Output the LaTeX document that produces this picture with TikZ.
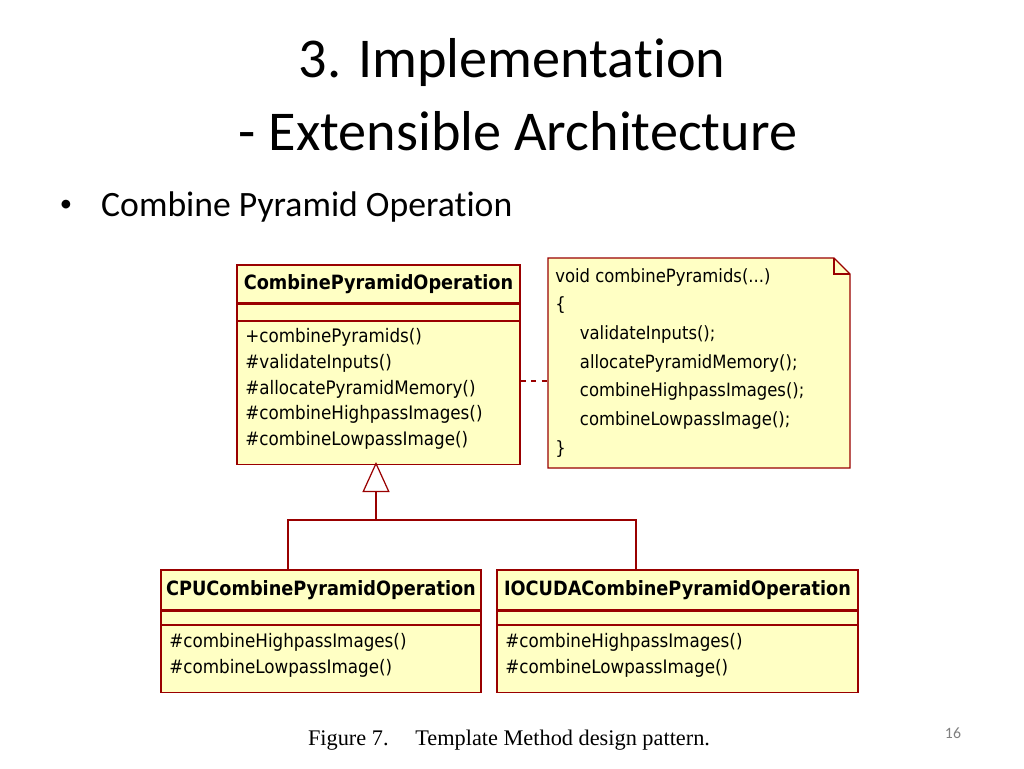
\documentclass[tikz,border=0pt]{standalone}
\usepackage{fontspec}
\setmainfont{Carlito}[Ligatures={NoCommon}]
\newfontfamily\umlfont{DejaVu Sans Condensed}
\newfontfamily\capfont{Liberation Serif}
\usetikzlibrary{positioning}
\usetikzlibrary{arrows.meta}
\definecolor{umlfill}{RGB}{255,255,196}
\definecolor{umlline}{RGB}{153,0,0}
\begin{document}
\begin{tikzpicture}[x=0.02cm, y=-0.02cm]
% -------------------------------------------------
\tikzset{
  comp/.style={draw=umlline, fill=umlfill, line width=0.7pt, inner sep=0pt},
  cname/.style={comp, font=\umlfont\bfseries\fontsize{11.2}{13}\selectfont},
  opstext/.style={anchor=north west, align=left, inner sep=0pt, font=\umlfont\fontsize{10.6}{14.7}\selectfont},
  notetext/.style={anchor=north west, align=left, inner sep=0pt, font=\umlfont\fontsize{10.4}{16.3}\selectfont},
  line/.style={draw=umlline, line width=0.7pt}
}
% -------------------------------------------------
\useasboundingbox (0,0) rectangle (1024,768);

% Slide text
\node (t1) at (512,63) {\fontsize{32}{38}\selectfont 3. Implementation};
\node (t2) at (518,131) {\fontsize{32}{38}\selectfont - Extensible Architecture};
\node[anchor=west] (b1) at (95,207) {\fontsize{20.3}{24}\selectfont Combine Pyramid Operation};
\node (dot) at (66,206) {\fontsize{14}{16}\selectfont •};

% Base class
\node[cname, minimum width=283*0.02cm, minimum height=38*0.02cm] (base) at (378.5,284) {CombinePyramidOperation};
\node[comp, minimum width=283*0.02cm, minimum height=16*0.02cm, below=0pt of base] (basea) {};
\node[comp, minimum width=283*0.02cm, minimum height=143*0.02cm, below=0pt of basea] (baseo) {};
\node[opstext] (baset) at (245,328)
  {+combinePyramids()\\\#validateInputs()\\\#allocatePyramidMemory()\\\#combineHighpassImages()\\\#combineLowpassImage()};

% Note
\draw[line, fill=umlfill] (548,258) -- (834,258) -- (850,274) -- (850,468) -- (548,468) -- cycle;
\draw[line] (834,258) -- (834,274) -- (850,274);
\node[notetext] (note) at (555,268)
  {void combinePyramids(...)\\\{\\\hspace{14pt}validateInputs();\\\hspace{14pt}allocatePyramidMemory();\\\hspace{14pt}combineHighpassImages();\\\hspace{14pt}combineLowpassImage();\\\}};
\coordinate (nleft) at (548,381);
\draw[line, dashed] (baseo.east |- nleft) -- (nleft);

% Subclasses
\node[cname, minimum width=320*0.02cm, minimum height=40*0.02cm] (cpu) at (321,590) {CPUCombinePyramidOperation};
\node[comp, minimum width=320*0.02cm, minimum height=13*0.02cm, below=0pt of cpu] (cpua) {};
\node[comp, minimum width=320*0.02cm, minimum height=67*0.02cm, below=0pt of cpua] (cpuo) {};
\node[opstext] (cput) at (169,633) {\#combineHighpassImages()\\\#combineLowpassImage()};

\node[cname, minimum width=361*0.02cm, minimum height=40*0.02cm] (cuda) at (677.5,590) {IOCUDACombinePyramidOperation};
\node[comp, minimum width=361*0.02cm, minimum height=13*0.02cm, below=0pt of cuda] (cudaa) {};
\node[comp, minimum width=361*0.02cm, minimum height=67*0.02cm, below=0pt of cudaa] (cudao) {};
\node[opstext] (cudat) at (505,633) {\#combineHighpassImages()\\\#combineLowpassImage()};

% Generalization
\coordinate (jn) at (376,520);
\draw[line] (288,570) -- (288,520) -- (636,520) -- (636,570);
\draw[line, -{Triangle[open, length=30*0.02cm, width=27*0.02cm]}] (jn) -- (376,462);

% Caption
\node (cap) at (509,740) {\capfont\fontsize{12.7}{15}\selectfont Figure 7.\hspace{1.2em}Template Method design pattern.};
\node[text=gray] (pg) at (953,733) {\fontsize{9}{10}\selectfont 16};
\end{tikzpicture}
\end{document}
